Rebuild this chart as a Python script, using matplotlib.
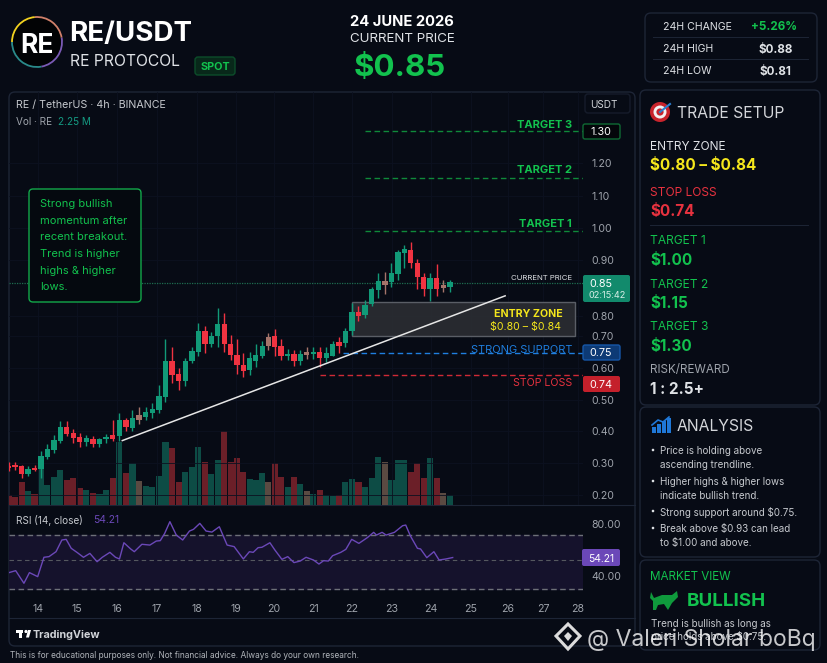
#!/usr/bin/env python3

import numpy as np
import matplotlib
matplotlib.use("Agg")
import matplotlib.pyplot as plt
from matplotlib.patches import FancyBboxPatch, Rectangle, Circle, Arc, Polygon

plt.rcParams["font.family"] = ["Inter", "DejaVu Sans"]

W, H = 828, 663

# 4h candles, left to right
opens = [.292, .293, .290, .267, .284, .281, .319, .342, .368, .414, .395, .381, .367, .375, .359, .374, .386, .384,
         .436, .411, .452, .446, .457, .468, .509, .623, .580, .559, .623, .651, .723, .675, .700, .762, .675, .641,
         .609, .594, .622, .639, .698, .700, .669, .639, .644, .623, .650, .644, .649, .630, .639, .680, .677, .725,
         .807, .802, .821, .846, .862, .861, .875, .922, .932, .895, .870, .848, .868, .855, .851]
closes = [.283, .288, .267, .282, .278, .321, .344, .371, .414, .392, .377, .367, .377, .360, .374, .381, .374, .436,
          .413, .441, .436, .461, .470, .512, .623, .577, .559, .623, .653, .725, .675, .702, .762, .675, .640, .608,
          .592, .630, .641, .669, .669, .667, .639, .645, .623, .643, .640, .650, .630, .646, .674, .670, .725, .807,
          .800, .820, .849, .863, .855, .876, .925, .934, .894, .870, .848, .868, .848, .850, .860]
highs = [.302, .302, .295, .290, .295, .337, .358, .389, .431, .431, .405, .395, .389, .384, .379, .392, .436, .459,
         .442, .468, .478, .476, .491, .547, .690, .665, .599, .630, .667, .767, .750, .722, .815, .806, .705, .690,
         .646, .651, .675, .683, .713, .733, .690, .659, .657, .657, .665, .665, .667, .667, .683, .698, .738, .823,
         .817, .829, .852, .876, .879, .894, .932, .947, .955, .902, .877, .877, .893, .864, .864]
lows = [.274, .279, .253, .260, .274, .253, .311, .332, .361, .384, .363, .351, .353, .351, .351, .363, .368, .368,
        .400, .400, .421, .434, .442, .457, .494, .552, .531, .543, .615, .636, .648, .667, .667, .651, .625, .581,
        .573, .578, .604, .630, .657, .636, .625, .625, .606, .609, .627, .627, .604, .620, .636, .646, .667, .705,
        .777, .788, .817, .832, .840, .852, .864, .885, .885, .849, .836, .826, .836, .842, .843]
volumes = [2.25, 1.88, 5.25, 3.15, 2.48, 8.25, 4.5, 6.23, 7.88, 5.63, 6.15, 3.9, 3.38, 2.78, 2.48, 3.38, 6.15, 14.25,
           7.28, 9.38, 5.48, 4.35, 3.98, 6.53, 14.25, 12.75, 5.25, 7.35, 8.63, 12.98, 9.75, 6.98, 10.13, 16.65, 9.75,
           10.5, 7.5, 5.85, 5.63, 7.13, 5.25, 9.38, 6.38, 4.13, 6.38, 4.65, 3.23, 2.48, 3.38, 2.25, 2.1, 2.25, 5.25,
           5.78, 5.1, 3.98, 6.0, 10.73, 9.75, 5.63, 10.13, 10.13, 7.5, 9.38, 6.0, 10.5, 6.0, 2.63, 2.25]
muted = [20, 40, 46, 58, 67]
first_day = 13.25
candle_step = 0.165

rsi_days = [13.26, 13.43, 13.64, 13.78, 13.99, 14.15, 14.28, 14.46, 14.61, 14.72, 14.85, 15.01, 15.16, 15.32, 15.50,
            15.63, 15.82, 15.96, 16.06, 16.17, 16.34, 16.43, 16.62, 16.82, 16.98, 17.08, 17.19, 17.32, 17.48, 17.64,
            17.81, 17.91, 18.07, 18.23, 18.38, 18.57, 18.77, 18.95, 19.19, 19.35, 19.45, 19.58, 19.68, 19.89, 20.02,
            20.20, 20.35, 20.51, 20.67, 20.82, 21.01, 21.15, 21.27, 21.39, 21.50, 21.71, 21.84, 21.99, 22.17, 22.38,
            22.54, 22.61, 22.75, 22.85, 23.06, 23.27, 23.35, 23.47, 23.65, 23.73, 23.89, 24.07, 24.20, 24.37, 24.54]
rsi_values = [42.6, 44.1, 34.4, 42.6, 39.5, 54.4, 54.9, 58.7, 67.7, 68.2, 61.3, 57.9, 54.4, 57.4, 51.0, 54.4, 58.2,
              54.4, 53.1, 65.6, 60.8, 58.7, 64.4, 63.8, 66.9, 67.2, 72.8, 81.8, 71.5, 67.7, 74.6, 75.9, 80.5, 74.6,
              73.8, 77.9, 63.8, 62.6, 53.1, 58.7, 58.2, 61.8, 62.1, 65.6, 60.0, 52.8, 54.9, 50.3, 51.5, 54.4, 52.3,
              49.2, 51.8, 51.5, 55.6, 58.2, 60.5, 68.2, 65.1, 69.5, 73.6, 71.5, 73.6, 71.5, 73.6, 78.7, 79.2, 70.8,
              61.3, 60.8, 54.1, 58.7, 52.3, 53.1, 54.21]

price_ticks = [0.20, 0.30, 0.40, 0.50, 0.60, 0.70, 0.80, 0.90, 1.00, 1.10, 1.20]
price_tick_px = [495, 463, 431, 400, 368, 336, 316, 260, 228, 196, 163]
day_ticks = list(range(14, 29))
day_tick_px = [38, 77, 117, 157, 197, 236, 274, 313, 352, 392, 431, 471, 508, 543, 578]

target_prices = [0.99, 1.155, 1.30]
target_names = ["TARGET 1", "TARGET 2", "TARGET 3"]
current_price = 0.859
support_level = 0.647
stop_level = 0.577
entry_low, entry_high = 0.70, 0.825

GREEN = "#12c24e"
CANDLE_UP = "#119a78"
CANDLE_DOWN = "#f03341"
VOL_UP = "#0d4c45"
VOL_DOWN = "#6b1f28"
TAN = "#a5746a"
BG = "#070b15"
EDGE = "#1d2536"
LIGHT = "#dfe2e6"
GREY = "#9ea3ab"
YELLOW = "#f5e71c"
RED = "#e8323f"
BLUE = "#1f7fe0"
PURPLE = "#6b48b8"

fig = plt.figure(figsize=(W / 100, H / 100), dpi=100, facecolor=BG)


def rect_axes(x0, y0, x1, y1, **kw):
    return fig.add_axes([x0 / W, 1 - y1 / H, (x1 - x0) / W, (y1 - y0) / H], **kw)


def pixel_layer(z):
    a = fig.add_axes([0, 0, 1, 1], zorder=z)
    a.set_xlim(0, W)
    a.set_ylim(H, 0)
    a.axis("off")
    a.patch.set_alpha(0)
    return a


under = pixel_layer(0)
over = pixel_layer(5)


def panel(x0, y0, x1, y1, face=BG, edge=EDGE, lw=1, r=6, layer=under):
    layer.add_patch(FancyBboxPatch((x0, y0), x1 - x0, y1 - y0, boxstyle=f"round,pad=0,rounding_size={r}",
                                   fc=face, ec=edge, lw=lw))


def label(x, y, s, size=8, color=LIGHT, weight="normal", ha="left", layer=over, **kw):
    return layer.text(x, y, s, fontsize=size, color=color, weight=weight, ha=ha, va="center_baseline",
                      parse_math=False, **kw)


# price and day axes share these non-uniform scales, the picture's ticks are not evenly spaced
px_price = [0.0, 0.169] + price_ticks + [1.30, 1.42, 3.0]
px_price_y = [559, 505] + price_tick_px + [131, 92, -420]
px_day = [13] + day_ticks + [29]
px_day_x = [-1.3] + day_tick_px + [613]


def y_fwd(v):
    return np.interp(v, px_price, -np.array(px_price_y, float))


def y_inv(v):
    return np.interp(v, -np.array(px_price_y, float), px_price)


def x_fwd(v):
    return np.interp(v, px_day, px_day_x)


def x_inv(v):
    return np.interp(v, px_day_x, px_day)


# panels
panel(9, 92, 635, 646)
panel(645, 13, 817, 82)
panel(640, 90, 820, 405)
panel(640, 407, 820, 557)
panel(640, 560, 820, 650)

# main chart
ax = rect_axes(9, 92, 583, 505, zorder=2)
ax.patch.set_alpha(0)
ax.set_xscale("function", functions=(x_fwd, x_inv))
ax.set_yscale("function", functions=(y_fwd, y_inv))
ax.set_xlim(13.26, 28.14)
ax.set_ylim(0.169, 1.42)
for s in ax.spines.values():
    s.set_visible(False)
ax.yaxis.tick_right()
ax.set_yticks(price_ticks, [f"{p:.2f}" for p in price_ticks], fontsize=7.6, color=GREY)
ax.set_xticks(day_ticks)
ax.minorticks_off()
ax.tick_params(axis="both", length=0)
ax.tick_params(axis="y", pad=6)
ax.tick_params(axis="x", labelbottom=False)
ax.grid(True, color="#0c1120", lw=0.6)
ax.set_axisbelow(True)

days = np.array([first_day + i * candle_step for i in range(len(opens))])
up = np.array(closes) >= np.array(opens)
colors = [TAN if i in muted else (CANDLE_UP if u else CANDLE_DOWN) for i, u in enumerate(up)]
body_low = np.minimum(opens, closes)
body_h = np.abs(np.array(closes) - np.array(opens))
ax.vlines(days, lows, highs, colors=colors, lw=1, zorder=3)
ax.bar(days, body_h, 0.135, bottom=body_low, color=colors, zorder=4)

# volume sits on the bottom of the price pane
ax_vol = rect_axes(9, 405, 583, 505, zorder=1)
ax_vol.patch.set_alpha(0)
ax_vol.set_xscale("function", functions=(x_fwd, x_inv))
ax_vol.set_xlim(13.26, 28.14)
ax_vol.set_ylim(0, 22.5)
ax_vol.axis("off")
vol_colors = ["#5a4a42" if i in muted else (VOL_UP if u else VOL_DOWN) for i, u in enumerate(up)]
ax_vol.bar(days, volumes, 0.155, color=vol_colors)

# levels
for p in target_prices:
    ax.plot([22.33, 28.14], [p, p], color="#0f8a3a", lw=1, ls=(0, (4, 2.5)), zorder=3)
ax.plot([13.26, 28.14], [current_price] * 2, color="#1d6d50", lw=0.9, ls=(0, (1, 1)), zorder=2)
ax.plot([21.77, 28.14], [support_level] * 2, color=BLUE, lw=1, ls=(0, (4, 2.5)), zorder=3)
ax.plot([21.18, 28.14], [stop_level] * 2, color="#d02a36", lw=1, ls=(0, (4, 2.5)), zorder=3)
ax.add_patch(Rectangle((22, entry_low), 27.9 - 22, entry_high - entry_low, fc="#2b2d33", ec="#62666e", lw=1,
                       alpha=0.9, zorder=2.5))
ax.plot([16.13, 25.92], [0.37, 0.836], color="#e6e6e6", lw=1.1, zorder=5)

# rsi pane
ax_rsi = rect_axes(9, 507, 583, 596, zorder=2)
ax_rsi.patch.set_alpha(0)
ax_rsi.set_xscale("function", functions=(x_fwd, x_inv))
ax_rsi.set_xlim(13.26, 28.14)
ax_rsi.set_ylim(24.6, 93.1)
for s in ax_rsi.spines.values():
    s.set_visible(False)
ax_rsi.axhspan(30, 71.5, color="#15122c", zorder=0)
for lv in [30, 71.5]:
    ax_rsi.axhline(lv, color="#6d7078", lw=1, ls=(0, (4, 2.5)))
ax_rsi.axhline(52.3, color="#55585f", lw=0.8, ls=(0, (4, 3)))
ax_rsi.plot(rsi_days, rsi_values, color=PURPLE, lw=1)
ax_rsi.yaxis.tick_right()
ax_rsi.set_yticks([40, 80], ["40.00", "80.00"], fontsize=7.6, color=GREY)
ax_rsi.set_xticks(day_ticks, [str(d) for d in day_ticks], fontsize=7.6, color=GREY)
ax_rsi.minorticks_off()
ax_rsi.tick_params(axis="both", length=0)
ax_rsi.tick_params(axis="y", pad=6)
ax_rsi.tick_params(axis="x", pad=6)

under.plot([9, 635], [505, 505], color=EDGE, lw=0.8)
under.plot([9, 635], [618, 618], color=EDGE, lw=0.8)

# header
under.add_patch(Circle((37, 42), 25, fc="#020305", ec="none"))
for a0, a1, c in [(180, 265, "#f2d21f"), (265, 350, "#d0806a"), (350, 80, "#7a5ab5"), (80, 180, "#2a8a8a")]:
    under.add_patch(Arc((37, 42), 50, 50, theta1=a0, theta2=a1, color=c, lw=1.3))
label(37, 43, "RE", 19, "white", "bold", ha="center")
label(69, 31, "RE/USDT", 20, "white", "bold")
label(70, 60, "RE PROTOCOL", 11.3, LIGHT)
panel(195, 57, 235, 75, face="#08281a", edge="#0c4d2a", r=3)
label(215, 66, "SPOT", 7.8, GREEN, "bold", ha="center")
label(402, 20, "24 JUNE 2026", 10.6, "white", "bold", ha="center")
label(402, 37, "CURRENT PRICE", 9.6, LIGHT, ha="center")
label(400, 65, "$0.85", 22.5, GREEN, "bold", ha="center")

label(663, 26, "24H CHANGE", 7.6)
label(663, 48, "24H HIGH", 7.6)
label(663, 70, "24H LOW", 7.6)
label(774, 26, "+5.26%", 8.4, GREEN, "bold", ha="center")
label(776, 48, "$0.88", 8.4, LIGHT, "bold", ha="center")
label(775, 70, "$0.81", 8.4, LIGHT, "bold", ha="center")
under.plot([653, 808], [37, 37], color=EDGE, lw=0.7)
under.plot([653, 808], [59, 59], color=EDGE, lw=0.7)

# chart captions
label(16, 104, "RE / TetherUS · 4h · BINANCE", 7.7, "#c6c9ce")
label(16, 121, "Vol · RE", 7.2, GREY)
label(58, 121, "2.25 M", 7.2, "#149a82")
label(16, 519, "RSI (14, close)", 7.2, "#c6c9ce")
label(93, 519, "54.21", 7.4, PURPLE)
under.add_patch(Rectangle((16, 630), 7, 2.6, fc="white", ec="none"))
under.add_patch(Rectangle((19, 630), 3, 7.5, fc="white", ec="none"))
under.add_patch(Circle((26, 631.5), 1.6, fc="white", ec="none"))
under.add_patch(Polygon([(26, 637.5), (29, 637.5), (31, 630), (28, 630)], fc="white", ec="none"))
label(33, 634, "TradingView", 7.8, "#d0d3d8", "bold")
label(10, 655, "This is for educational purposes only. Not financial advice. Always do your own research.", 6, "#b0b4ba")

panel(29, 189, 141, 302, face="#05090f", edge="#12a84a", r=4, layer=over)
for yy, s in zip([203, 220, 236, 253, 270, 286],
                 ["Strong bullish", "momentum after", "recent breakout.", "Trend is higher", "highs & higher",
                  "lows."]):
    label(40, yy, s, 8, GREEN)

for yy, s in zip([223, 169, 124], target_names):
    label(572, yy, s, 8, GREEN, "bold", ha="right")
label(572, 278, "CURRENT PRICE", 5.6, LIGHT, ha="right")
label(528, 313, "ENTRY ZONE", 7.6, YELLOW, "bold", ha="center")
label(561, 326, "$0.80 – $0.84", 7.6, YELLOW, ha="right")
label(572, 349, "STRONG SUPPORT", 7.9, BLUE, ha="right")
label(572, 382, "STOP LOSS", 7.6, RED, ha="right")

# right hand price badges
panel(585, 94, 630, 113, edge="#161c2b", r=3)
label(590, 104, "USDT", 7.2, "#d0d3d8")
panel(583, 124, 620, 139, face="#04060a", edge="#0f6a34", r=2, layer=over)
label(601, 131, "1.30", 7.8, "white", ha="center")
panel(583, 275, 630, 302, face="#128a6c", edge="none", r=2, layer=over)
label(589, 283, "0.85", 7.8, "white")
label(589, 295, "02:15:42", 6.6, "#d8efe8")
panel(583, 345, 620, 360, face="#0d3a75", edge="#1657a8", r=2, layer=over)
label(601, 352, "0.75", 7.8, "white", ha="center")
panel(583, 376, 620, 392, face="#c4202b", edge="none", r=2, layer=over)
label(601, 384, "0.74", 7.8, "white", ha="center")
panel(582, 549, 620, 566, face=PURPLE, edge="none", r=2, layer=over)
label(601, 558, "54.21", 7.4, "white", ha="center")

# trade setup
under.add_patch(Circle((660, 112), 10, fc="#c8242c", ec="none"))
under.add_patch(Circle((660, 112), 6.5, fc="#f2f2f2", ec="none"))
under.add_patch(Circle((660, 112), 3.6, fc="#c8242c", ec="none"))
under.plot([660, 670], [112, 104], color="#2c7fd0", lw=1.5)
label(677, 112, "TRADE SETUP", 11.3, "#d4d6da")
under.plot([650, 808], [225, 225], color=EDGE, lw=0.7)
label(650, 145, "ENTRY ZONE", 8.6)
label(650, 164, "$0.80 – $0.84", 11, YELLOW, "bold")
label(650, 191, "STOP LOSS", 8.6, RED)
label(650, 210, "$0.74", 11, RED, "bold")
for y0, name, val in [(240, "TARGET 1", "$1.00"), (283, "TARGET 2", "$1.15"), (326, "TARGET 3", "$1.30")]:
    label(650, y0, name, 8.6, GREEN)
    label(650, y0 + 19, val, 11, GREEN, "bold")
label(650, 369, "RISK/REWARD", 8.4, GREY)
label(650, 388, "1 : 2.5+", 11, LIGHT, "bold")

# analysis
for bx, bh in zip([652.5, 657.5, 662.5, 667.5], [6, 9, 12, 15]):
    under.add_patch(Rectangle((bx, 433 - bh), 3.6, bh, fc="#1f78d8", ec="none"))
under.plot([652, 658, 663, 669], [425, 420, 422, 417], color="#1f78d8", lw=1.2)
label(677, 425, "ANALYSIS", 11.3, "#d4d6da")
for yy in [450, 481, 511, 528]:
    under.add_patch(Circle((653, yy), 1.3, fc=LIGHT, ec="none"))
for yy, s in zip([450, 464, 481, 495, 511, 528, 542],
                 ["Price is holding above", "ascending trendline.", "Higher highs & higher lows",
                  "indicate bullish trend.", "Strong support around $0.75.", "Break above $0.93 can lead",
                  "to $1.00 and above."]):
    label(660.5, yy, s, 7.1, "#c6c9ce")

# market view
label(650, 575, "MARKET VIEW", 8.4, GREEN)
under.add_patch(Polygon([(651, 592), (654, 598), (662, 595), (672, 595), (677, 591), (678, 597), (672, 603),
                         (668, 610), (664, 604), (658, 605), (656, 610), (653, 610), (653, 601), (650, 598)],
                        fc="#0f9a3c", ec="none"))
label(687, 600, "BULLISH", 13.5, GREEN, "bold")
label(651, 623, "Trend is bullish as long as", 7.1, "#c6c9ce")
label(651, 636, "price holds above $0.75.", 7.1, "#c6c9ce")

# watermark
over.add_patch(Polygon([(568, 624), (580, 636), (568, 649), (556, 636)], fc="none", ec="#dcdcdc", lw=2.2))
over.add_patch(Polygon([(568, 632), (572, 636), (568, 641), (564, 636)], fc="#dcdcdc", ec="none"))
label(587, 637, "@ Valeri Sholar boBq", 16.5, "white", alpha=0.78)

fig.savefig("out.png", dpi=100, facecolor=BG)
